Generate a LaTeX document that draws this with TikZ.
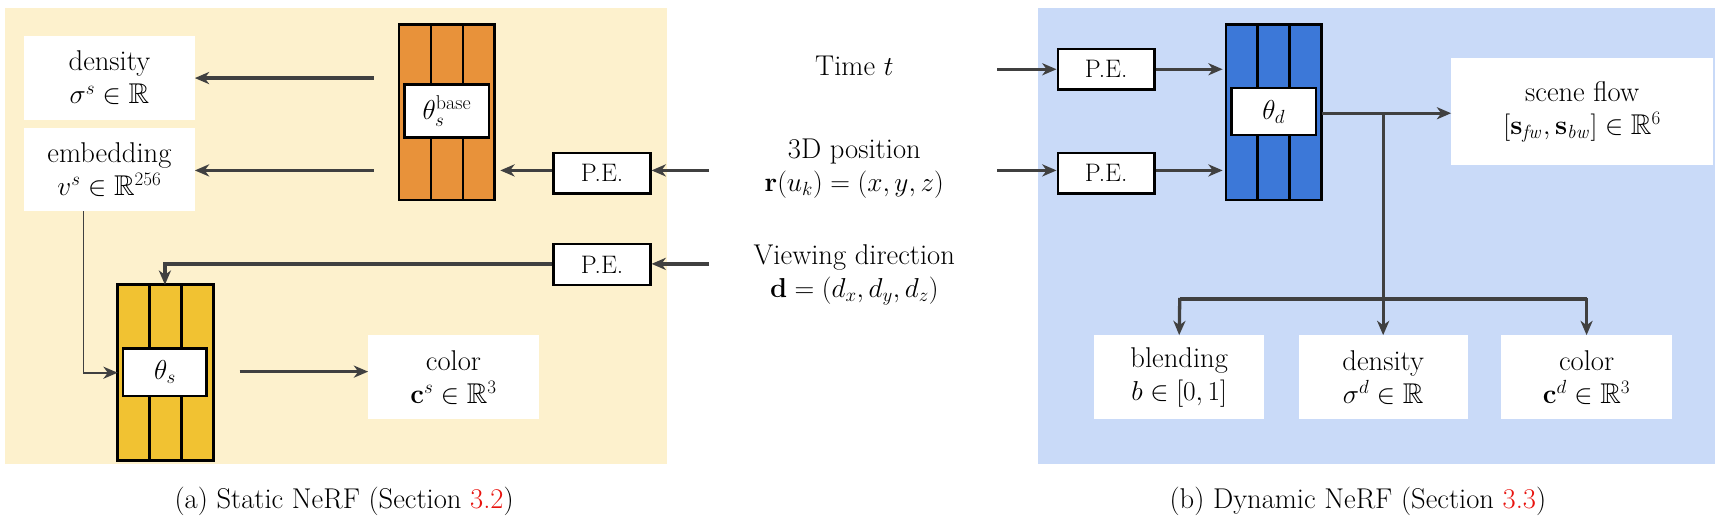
\documentclass[tikz,border=0pt]{standalone}
\usepackage{amsmath,amssymb}
\usetikzlibrary{arrows.meta}
\definecolor{ybg}{HTML}{FDF1CD}
\definecolor{bbg}{HTML}{C9DAF8}
\definecolor{org}{HTML}{E8923A}
\definecolor{yel}{HTML}{F1C232}
\definecolor{blu}{HTML}{3C78D8}
\definecolor{arr}{HTML}{404040}
\definecolor{refred}{HTML}{E8130E}
\begin{document}
\begin{tikzpicture}[x=1pt,y=-1pt,
  every node/.style={font=\fontsize{26}{30}\selectfont},
  outb/.style={fill=white,draw=none,minimum width=155pt,minimum height=76pt,align=center,inner sep=1pt},
  pe/.style={fill=white,draw=black,line width=2.2pt,minimum width=88pt,minimum height=37pt,inner sep=0pt,font=\fontsize{23}{27}\selectfont},
  lab/.style={fill=white,draw=black,line width=2.2pt,inner sep=0pt},
  ar/.style={draw=arr,line width=3pt,-{Stealth[length=13pt,width=11pt,inset=4pt]}},
  ln/.style={draw=arr,line width=3pt},
  txt/.style={align=center}]
\useasboundingbox (0,0) rectangle (1568,473);
\fill[ybg] (5,7) rectangle (607,422);
\fill[bbg] (944,7) rectangle (1560,422);
% bars
\foreach \x in {363,392,421}{\draw[fill=org,line width=2.5pt] (\x,22) rectangle ++(29,160);}
\foreach \x in {107,136,165}{\draw[fill=yel,line width=2.5pt] (\x,259) rectangle ++(29,160);}
\foreach \x in {1115,1144,1173}{\draw[fill=blu,line width=2.5pt] (\x,22) rectangle ++(29,160);}
\node[lab,minimum width=77pt,minimum height=48pt] (tb) at (406.5,101) {$\theta_s^{\text{base}}$};
\node[lab,minimum width=76pt,minimum height=43pt] (ts) at (150,338.5) {$\theta_s$};
\node[lab,minimum width=77pt,minimum height=43pt] (td) at (1158.5,101.5) {$\theta_d$};
\coordinate (ob) at (340,71); \coordinate (oe) at (340,155); \coordinate (oin) at (455,155);
% outputs
\node[outb] (dens) at (99.5,71) {density\\$\sigma^s\in\mathbb{R}$};
\node[outb] (emb) at (99.5,154) {embedding\\$v^s\in\mathbb{R}^{256}$};
\node[outb] (col) at (412.5,343) {color\\$\mathbf{c}^s\in\mathbb{R}^3$};
\node[outb,minimum width=238pt,minimum height=97pt] (sf) at (1439,101.5) {scene flow\\$[\mathbf{s}_{\mathit{fw}},\mathbf{s}_{\mathit{bw}}]\in\mathbb{R}^6$};
\node[outb] (bl) at (1072.5,343) {blending\\$b\in[0,1]$};
\node[outb,minimum width=154pt] (dd) at (1258,343) {density\\$\sigma^d\in\mathbb{R}$};
\node[outb,minimum width=156pt] (cd) at (1443,343) {color\\$\mathbf{c}^d\in\mathbb{R}^3$};
% PE
\node[pe] (pe1) at (547.5,157.5) {P.E.};
\node[pe] (pe2) at (547.5,240.5) {P.E.};
\node[pe] (pe3) at (1006,63) {P.E.};
\node[pe] (pe4) at (1006,157.5) {P.E.};
% inputs
\node[txt] (time) at (777,60) {Time $t$};
\node[txt] (pos) at (777,153) {3D position\\$\mathbf{r}(u_k)=(x,y,z)$};
\node[txt] (view) at (777,250) {Viewing direction\\$\mathbf{d}=(d_x,d_y,d_z)$};
\coordinate (pl) at (645,155); \coordinate (pr) at (907,155);
\coordinate (vl) at (645,240); \coordinate (tr) at (907,63);
% left arrows
\draw[ar] (ob) -- (dens.east|-ob);
\draw[ar] (oe) -- (emb.east|-oe);
\draw[ar] (pl) -- (pe1.east|-pl);
\draw[ar] (pe1.west|-oin) -- (oin);
\draw[ar] (vl) -- (pe2.east|-vl);
\coordinate (k1) at (150,240);
\draw[ar] (pe2.west|-k1) -- (k1) -- (150,259);
\coordinate (k2) at (76,339);
\draw[draw=arr,line width=1.5pt,-{Stealth[length=13pt,width=11pt,inset=4pt]}] (emb.south-|k2) -- (k2) -- (107,339);
\coordinate (c0) at (218,338);
\draw[ar] (c0) -- (col.west|-c0);
% right arrows
\draw[ar] (tr) -- (pe3.west);
\draw[ar] (pe3.east) -- (1112,63);
\draw[ar] (pr) -- (pe4.west|-pr);
\draw[ar] (pe4.east|-pr) -- (1112,155);
\coordinate (j) at (1258,103);
\draw[ar] (1202,103) -- (sf.west|-j);
\draw[ar] (j) -- (dd.north);
\draw[ln] (1073,272) -- (1443,272);
\draw[ar] (1073,271) -- (bl.north);
\draw[ar] (1443,271) -- (cd.north);
% captions
\node (ca) at (313,456) {(a) Static NeRF (Section \textcolor{refred}{3.2})};
\node (cb) at (1235,456) {(b) Dynamic NeRF (Section \textcolor{refred}{3.3})};
\end{tikzpicture}
\end{document}
